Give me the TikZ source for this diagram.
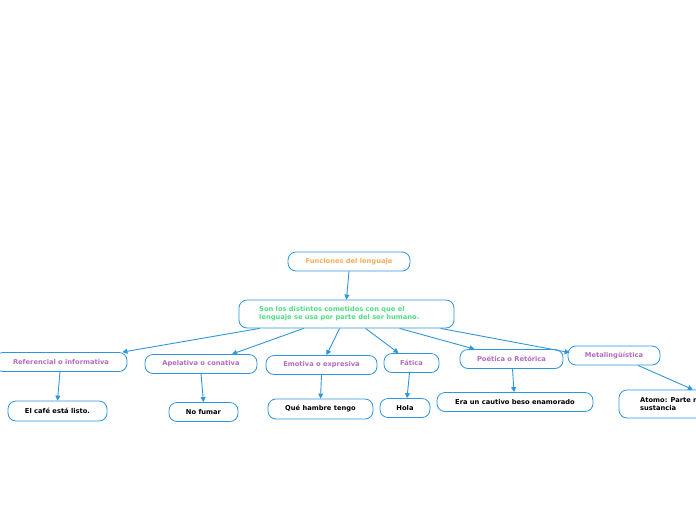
\documentclass[tikz,border=0pt]{standalone}
\usepackage{fontspec}
\setmainfont{DejaVu Sans}
\usetikzlibrary{arrows.meta,calc}
\definecolor{bl}{HTML}{2E96DC}
\definecolor{org}{HTML}{F7AE5A}
\definecolor{grn}{HTML}{52DE82}
\definecolor{pur}{HTML}{B36CC2}
\begin{document}
\begin{tikzpicture}[x=1pt,y=-1pt,
 box/.style={draw=bl,line width=0.8pt,rounded corners=8pt,fill=white,minimum height=19pt,inner sep=0pt,font=\fontsize{6.7}{7.5}\selectfont\bfseries},
 cat/.style={box,text=pur},
 ex/.style={box,text=black},
 arr/.style={draw=bl,line width=0.9pt,-{Triangle[length=5pt,width=5pt]}}]
\useasboundingbox (0,0) rectangle (696,520);
\node[box,text=org,minimum width=122pt] (f) at (349,261.5) {Funciones del lenguaje};
\node[box,text=grn,minimum width=215pt,minimum height=28pt] (s) at (346.5,314) {};
\node[text=grn,font=\fontsize{6.7}{8}\selectfont\bfseries,align=left,anchor=west,inner sep=0pt] (st) at (259,314) {Son los distintos cometidos con que el\\lenguaje se usa por parte del ser humano.};
\node[cat,minimum width=132pt] (r) at (61,362) {Referencial o informativa};
\node[cat,minimum width=112pt] (a) at (201,364) {Apelativa o conativa};
\node[cat,minimum width=111pt] (e) at (321.5,365) {Emotiva o expresiva};
\node[cat,minimum width=55pt] (fa) at (411.5,363) {Fática};
\node[cat,minimum width=103pt] (p) at (511.5,359) {Poética o Retórica};
\node[cat,minimum width=92pt] (m) at (614,355.5) {Metalingüística};
\node[ex,minimum width=99pt,minimum height=20pt] (r1) at (57.5,411) {El café está listo.};
\node[ex,minimum width=69pt] (a1) at (203.5,412) {No fumar};
\node[ex,minimum width=105pt,minimum height=20pt] (e1) at (320.5,409) {Qué hambre tengo};
\node[ex,minimum width=50pt] (fa1) at (405,408) {Hola};
\node[ex,minimum width=156pt] (p1) at (515,402) {Era un cautivo beso enamorado};
\node[ex,minimum width=150pt,minimum height=28pt] (m1) at (694,404) {};
\node[font=\fontsize{6.7}{8}\selectfont\bfseries,align=left,anchor=west,inner sep=0pt] (m1t) at (640,404) {Atomo: Parte mínima de\\sustancia};
\draw[arr] (f.south) -- (s.north);
\draw[arr] ($(s.south west)+(21,0)$) -- ($(r.north east)+(-5,0)$);
\draw[arr] ($(s.south west)+(65,0)$) -- ($(a.north)+(31,0)$);
\draw[arr] ($(s.south west)+(101,0)$) -- ($(e.north)+(5,0)$);
\draw[arr] ($(s.south west)+(127,0)$) -- ($(fa.north)+(-13,0)$);
\draw[arr] ($(s.south west)+(161,0)$) -- ($(p.north)+(-37,0)$);
\draw[arr] ($(s.south west)+(202,0)$) -- ($(m.north west)+(2,7)$);
\draw[arr] (r.south) ++(-1,0) -- (r1.north);
\draw[arr] (a.south) -- (a1.north);
\draw[arr] (e.south) -- (e1.north);
\draw[arr] ($(fa.south)+(-2,0)$) -- ($(fa1.north)+(2,0)$);
\draw[arr] ($(p.south)+(1,0)$) -- ($(p1.north)+(-1,0)$);
\draw[arr] ($(m.south)+(24,0)$) -- ($(m1.north)+(-1,0)$);
\end{tikzpicture}
\end{document}
